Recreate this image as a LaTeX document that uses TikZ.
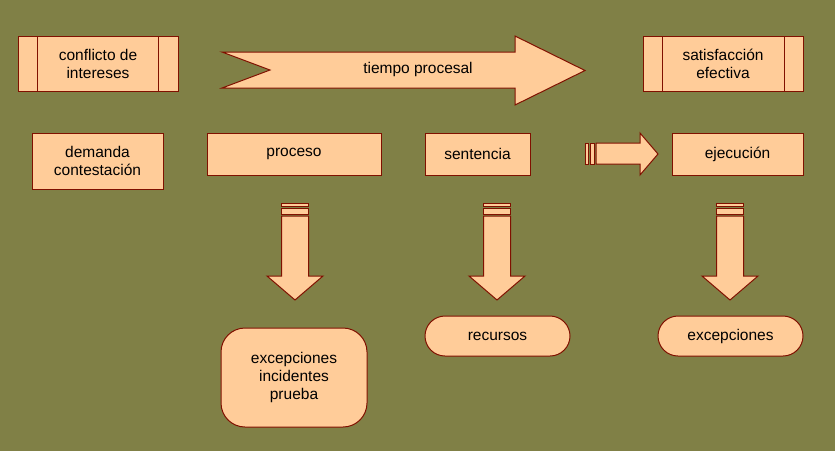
\documentclass[tikz,border=0pt]{standalone}
\usepackage{fontspec}
\setmainfont{Liberation Sans}
\begin{document}
\begin{tikzpicture}[x=1pt,y=-1pt,
  every node/.style={font=\fontsize{15.5}{18}\selectfont, text=black, align=center},
  box/.style={draw=bdr, fill=peach, line width=1pt, inner sep=0pt},
  shp/.style={draw=bdr, fill=peach, line width=1pt, line join=miter}]
\definecolor{bg}{RGB}{128,128,70}
\definecolor{peach}{RGB}{255,204,153}
\definecolor{bdr}{RGB}{128,16,0}
\fill[bg] (0,0) rectangle (835,451);
\useasboundingbox (0,0) rectangle (835,451);
% top boxes
\node[box, minimum width=160, minimum height=55] (c) at (98,63.5) {conflicto de\\intereses};
\draw[bdr, line width=1pt] (37,36) -- (37,91) (158,36) -- (158,91);
\node[box, minimum width=160, minimum height=55] (s) at (723,63.5) {satisfacción\\efectiva};
\draw[bdr, line width=1pt] (662,36) -- (662,91) (784,36) -- (784,91);
% big arrow
\draw[shp] (222,52) -- (515,52) -- (515,36) -- (585,70.5) -- (515,105) -- (515,88) -- (222,88) -- (270,70) -- cycle;
\node (t) at (418,69) {tiempo procesal};
% second row
\node[box, minimum width=131, minimum height=56] (d) at (97.5,161) {demanda\\contestación};
\node[box, minimum width=174, minimum height=42] (p) at (294,154) {proceso};
\node[box, minimum width=105, minimum height=42] (se) at (477.5,154) {sentencia};
\node[box, minimum width=131, minimum height=42] (e) at (737.5,154) {ejecución};
% right arrow
\draw[shp, line width=0.8pt] (585,143) rectangle (588,164) (590,143) rectangle (594,164);
\draw[shp] (596,143) -- (640,143) -- (640,133) -- (658,154) -- (640,175) -- (640,164) -- (596,164) -- cycle;
% down arrows
\foreach \cx/\nm in {295/a1,497/a2,730/a3}{
  \draw[shp, line width=0.8pt] (\cx-13.5,203) rectangle (\cx+13.5,206) (\cx-13.5,208) rectangle (\cx+13.5,214);
  \draw[shp] (\cx-13.5,216) -- (\cx+13.5,216) -- (\cx+13.5,276) -- (\cx+28,276) -- (\cx,300) -- (\cx-28,276) -- (\cx-13.5,276) -- cycle;
  \coordinate (\nm) at (\cx,300);
}
% bottom
\begin{scope}
\clip (0,0) rectangle (835,427);
\node[box, minimum width=146, minimum height=99, rounded corners=24] (x1) at (294,377.5) {excepciones\\incidentes\\prueba};
\end{scope}
\node[box, minimum width=145, minimum height=40, rounded corners=20] (r) at (497.5,336) {recursos};
\node[box, minimum width=145, minimum height=40, rounded corners=20] (x2) at (730.5,336) {excepciones};
\end{tikzpicture}
\end{document}
